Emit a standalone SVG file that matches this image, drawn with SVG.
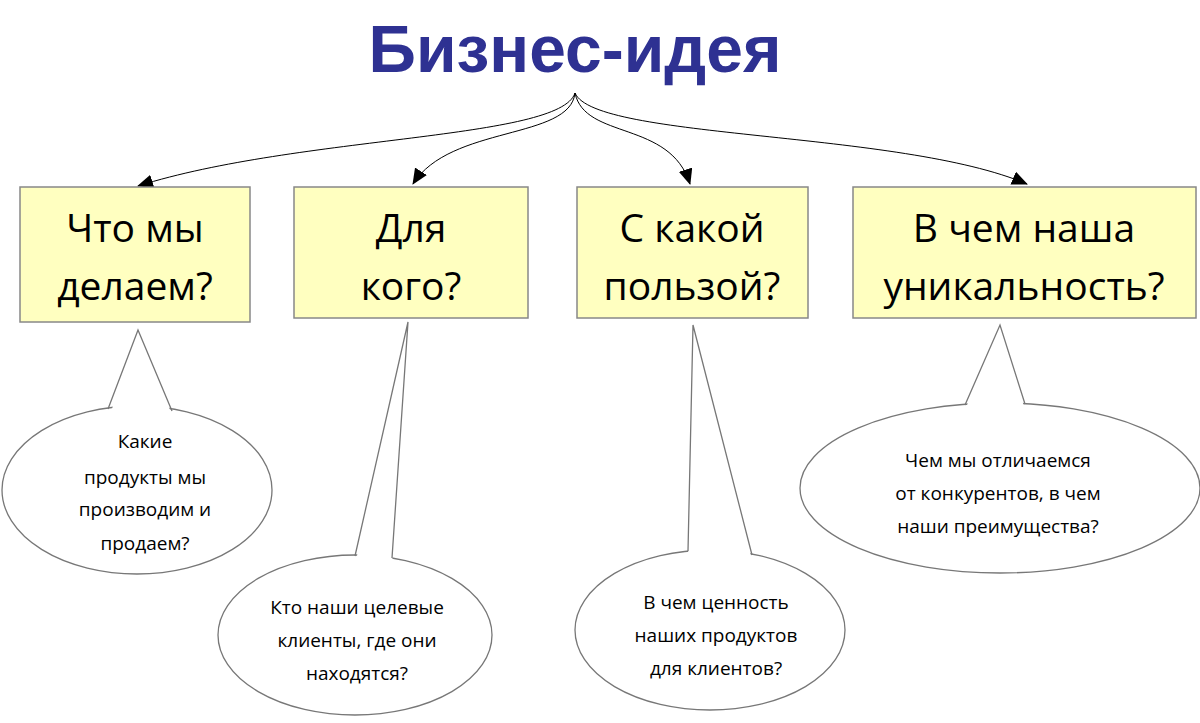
<svg xmlns="http://www.w3.org/2000/svg" width="1200" height="723" viewBox="0 0 1200 723">
<defs>
<marker id="ah" markerWidth="16" markerHeight="14" refX="15" refY="7" orient="auto" markerUnits="userSpaceOnUse"><path d="M0,0 L16,7 L0,14 z" fill="#000"/></marker>
<style>
.box{fill:#FFFFC0;stroke:#888;stroke-width:1.5}
.bt{font-family:"Open Sans","Liberation Sans",sans-serif;font-size:39px;fill:#000;text-anchor:middle}
.ct{font-family:"Open Sans","Liberation Sans",sans-serif;font-size:19px;fill:#000;text-anchor:middle}
.ell{fill:#fff;stroke:#777;stroke-width:1.3}
.tail{fill:none;stroke:#777;stroke-width:1.3}
.con{fill:none;stroke:#000;stroke-width:1;marker-end:url(#ah)}
</style>
</defs>
<rect width="1200" height="723" fill="#fff"/>
<text x="575" y="72" font-family="Liberation Sans,Arial,sans-serif" font-weight="bold" font-size="66" fill="#2E3192" text-anchor="middle">Бизнес-идея</text>
<g id="connectors">
<path class="con" d="M575,93 C560,140 300,135 138,186"/>
<path class="con" d="M575,93 C570,140 450,125 413,184"/>
<path class="con" d="M575,93 C585,140 670,120 690,184"/>
<path class="con" d="M575,93 C595,140 900,130 1027,184"/>
</g>
<g id="box1"><rect class="box" x="20" y="187" width="230" height="135"/><text class="bt" x="135" y="242">Что мы</text><text class="bt" x="135" y="300">делаем?</text></g>
<g id="box2"><rect class="box" x="294" y="187" width="234" height="131"/><text class="bt" x="411" y="242">Для</text><text class="bt" x="411" y="300">кого?</text></g>
<g id="box3"><rect class="box" x="577" y="187" width="231" height="131"/><text class="bt" x="692" y="242">С какой</text><text class="bt" x="692" y="300">пользой?</text></g>
<g id="box4"><rect class="box" x="853" y="187" width="343" height="131"/><text class="bt" x="1024" y="242">В чем наша</text><text class="bt" x="1024" y="300">уникальность?</text></g>
<g id="callout1"><ellipse class="ell" cx="137" cy="490" rx="135" ry="84"/><polygon points="110,415 138,330 172,415" fill="#fff"/><polyline class="tail" points="108,409 138,330 172,411"/>
<text class="ct" x="145" y="448">Какие</text><text class="ct" x="145" y="484">продукты мы</text><text class="ct" x="145" y="516">производим и</text><text class="ct" x="145" y="550">продаем?</text></g>
<g id="callout2"><ellipse class="ell" cx="355" cy="635" rx="137" ry="80"/><polygon points="355,565 408,322 392,565" fill="#fff"/><polyline class="tail" points="355,556 408,322 392,558"/>
<text class="ct" x="357" y="614">Кто наши целевые</text><text class="ct" x="357" y="647">клиенты, где они</text><text class="ct" x="357" y="680">находятся?</text></g>
<g id="callout3"><ellipse class="ell" cx="710" cy="630" rx="135" ry="80"/><polygon points="688,560 693,325 752,560" fill="#fff"/><polyline class="tail" points="688,551 693,325 752,555"/>
<text class="ct" x="716" y="609">В чем ценность</text><text class="ct" x="716" y="642">наших продуктов</text><text class="ct" x="716" y="675">для клиентов?</text></g>
<g id="callout4"><ellipse class="ell" cx="1000" cy="488" rx="200" ry="85"/><polygon points="965,410 1000,325 1025,410" fill="#fff"/><polyline class="tail" points="965,405 1000,325 1025,404"/>
<text class="ct" x="998" y="467">Чем мы отличаемся</text><text class="ct" x="998" y="500">от конкурентов, в чем</text><text class="ct" x="998" y="533">наши преимущества?</text></g>
</svg>
